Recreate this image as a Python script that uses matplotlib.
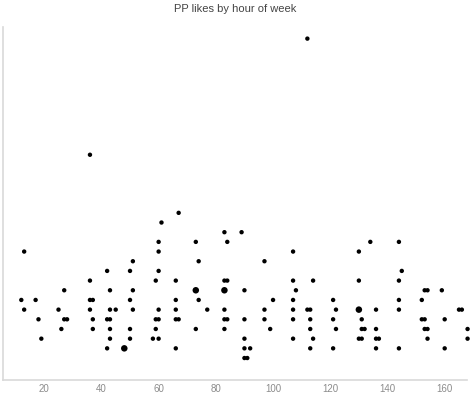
import matplotlib
matplotlib.use("Agg")
import matplotlib.pyplot as plt
from collections import Counter

# hour of week for each like-count observation
hours = [36, 112,
         13, 27, 12, 17, 13, 25, 18, 27, 28, 26, 19,
         51, 42, 50, 36, 43, 51, 36, 37, 50, 36, 43, 45, 51, 37, 42, 43, 37, 43, 50,
         43, 50, 58, 42, 48, 48,
         67, 61, 83, 60, 73, 84, 60, 74, 60, 59, 66, 83, 84, 73, 73, 83, 83, 66, 74,
         60, 66, 77, 83, 59, 60, 66, 67, 83, 84, 59, 73, 83, 60, 66,
         89, 107, 97, 107, 90, 108, 100, 107, 97, 107, 90, 97, 107, 99, 90, 107, 90,
         92, 90, 91,
         134, 130, 114, 130, 121, 112, 113, 122, 130, 130, 136, 113, 121, 131, 113,
         122, 131, 132, 136, 114, 130, 131, 136, 137, 113, 121, 136,
         144, 145, 144, 153, 154, 159, 144, 152, 144, 165, 166, 152, 153, 160, 153,
         154, 168, 154, 168, 144, 160]
likes = [21, 33,
         11, 7, 6, 6, 5, 5, 4, 4, 4, 3, 2,
         10, 9, 9, 8, 7, 7, 6, 6, 6, 5, 5, 5, 5, 4, 4, 4, 3, 3, 3,
         2, 2, 2, 1, 1, 1,
         15, 14, 13, 12, 12, 12, 11, 10, 9, 8, 8, 8, 8, 7, 7, 7, 7, 6, 6,
         5, 5, 5, 5, 4, 4, 4, 4, 4, 4, 3, 3, 3, 2, 1,
         13, 11, 10, 8, 7, 7, 6, 6, 5, 5, 4, 4, 4, 3, 2, 2, 1,
         1, 0, 0,
         12, 11, 8, 8, 6, 5, 5, 5, 5, 5, 5, 4, 4, 4, 3,
         3, 3, 3, 3, 2, 2, 2, 2, 2, 1, 1, 1,
         12, 9, 8, 7, 7, 7, 6, 6, 5, 5, 5, 4, 4, 4, 3,
         3, 3, 2, 2, 1, 1]

counts = Counter(zip(hours, likes))
xs = [k[0] for k in counts]
ys = [k[1] for k in counts]
ss = [10 if c == 1 else 22 for c in counts.values()]

plt.rcParams['font.family'] = ['Liberation Sans', 'DejaVu Sans']

fig = plt.figure(figsize=(4.74, 3.95), dpi=100)
ax = fig.add_axes([3/474, 15/395, 464/474, 353/395])
ax.scatter(xs, ys, s=ss, color='black', linewidths=0, clip_on=False)

ax.set_xlim(5.6, 167.8)
ax.set_ylim(-2.27, 34.2)
ax.set_xticks([20, 40, 60, 80, 100, 120, 140, 160])
ax.set_yticks([])
ax.tick_params(axis='x', length=0, pad=3, labelsize=7, labelcolor='#8c8c8c')
for side in ['top', 'right']:
    ax.spines[side].set_visible(False)
for side in ['left', 'bottom']:
    ax.spines[side].set_color('#d9d9d9')
    ax.spines[side].set_linewidth(1.2)

fig.text(235/474, 1 - 9/395, 'PP likes by hour of week', ha='center', va='center',
         fontsize=8, color='#444444')

fig.savefig('out.png', dpi=100)
